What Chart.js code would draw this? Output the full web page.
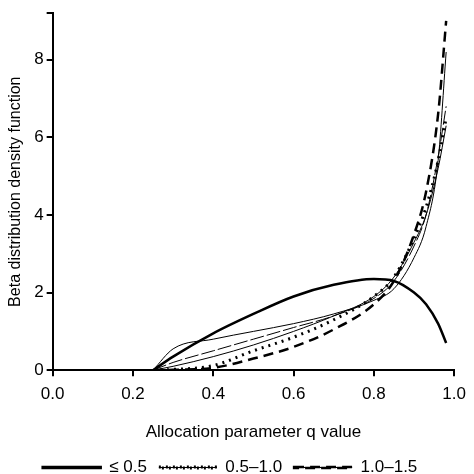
<!DOCTYPE html>
<html><head><meta charset="utf-8">
<script src="https://cdn.jsdelivr.net/npm/chart.js@4"></script>
<style>html,body{margin:0;background:#fff;overflow:hidden}#wrap{width:474px;height:486px}</style>
</head><body><div id="wrap"><canvas id="c"></canvas></div>
<script>
/* q values and densities */
const qA = [0.25,0.3,0.4,0.5,0.6,0.7,0.8,0.85,0.9,0.93,0.96,0.98];
const le05   = [0,0.35,0.95,1.45,1.9,2.2,2.35,2.3,2.0,1.7,1.2,0.7];
const q05_10 = [0,0.02,0.12,0.5,0.85,1.3,1.9,2.4,3.4,4.2,5.4,6.5];
const q10_15 = [0,0.01,0.06,0.3,0.6,1.05,1.7,2.3,3.5,4.6,6.6,9.0];
const thin1  = [0,0.55,0.8,1.0,1.2,1.45,1.8,2.1,2.9,3.7,5.4,8.2];
const thin2  = [0,0.2,0.5,0.8,1.1,1.4,1.85,2.3,3.2,4.0,5.5,6.8];
const thin3  = [0,0.1,0.35,0.65,1.0,1.4,1.9,2.4,3.3,4.0,5.2,6.3];
const legendLabels = ['≤ 0.5','0.5–1.0','1.0–1.5'];

const F = {family:'Arial, Liberation Sans', size:17};
const pts = v => v.map((y,i)=>({x:qA[i], y}));
const ds = (label, v, w, dash) => ({label, data:pts(v), borderColor:'#000', backgroundColor:'#000', borderWidth:w,
  borderDash:dash, pointRadius:0, cubicInterpolationMode:'monotone', fill:false});

new Chart(document.getElementById('c'), {
  type:'line',
  data:{datasets:[
    ds(legendLabels[0], le05, 2.5, []),
    ds(legendLabels[1], q05_10, 3, [2,5]),
    ds(legendLabels[2], q10_15, 2.5, [10,6]),
    ds('', thin1, 1, []),
    ds('', thin2, 1, [14,3]),
    ds('', thin3, 1, [])
  ]},
  options:{
    responsive:true, maintainAspectRatio:false, animation:false,
    layout:{padding:{top:0,right:14,left:0,bottom:0}},
    plugins:{
      tooltip:{enabled:false},
      legend:{position:'bottom', labels:{
        filter:it=>it.text!=='', boxWidth:58, boxHeight:1,
        color:'#000', font:F, padding:12}}
    },
    scales:{
      x:{type:'linear', min:0, max:1,
        ticks:{stepSize:0.2, color:'#000', font:F, padding:8, callback:v=>v.toFixed(1)},
        grid:{drawOnChartArea:false, color:'#000', tickLength:6, lineWidth:2},
        border:{color:'#000', width:2},
        title:{display:true, text:'Allocation parameter q value', color:'#000', font:F, padding:{top:10}}},
      y:{min:0, max:9.2,
        ticks:{stepSize:2, color:'#000', font:F, callback:v=>v%2===0?v:''},
        grid:{drawOnChartArea:false, color:'#000', tickLength:6, lineWidth:2},
        border:{color:'#000', width:2},
        title:{display:true, text:'Beta distribution density function', color:'#000', font:{family:'Arial, Liberation Sans', size:16}, padding:6}}
    }
  }
});
</script></body></html>
